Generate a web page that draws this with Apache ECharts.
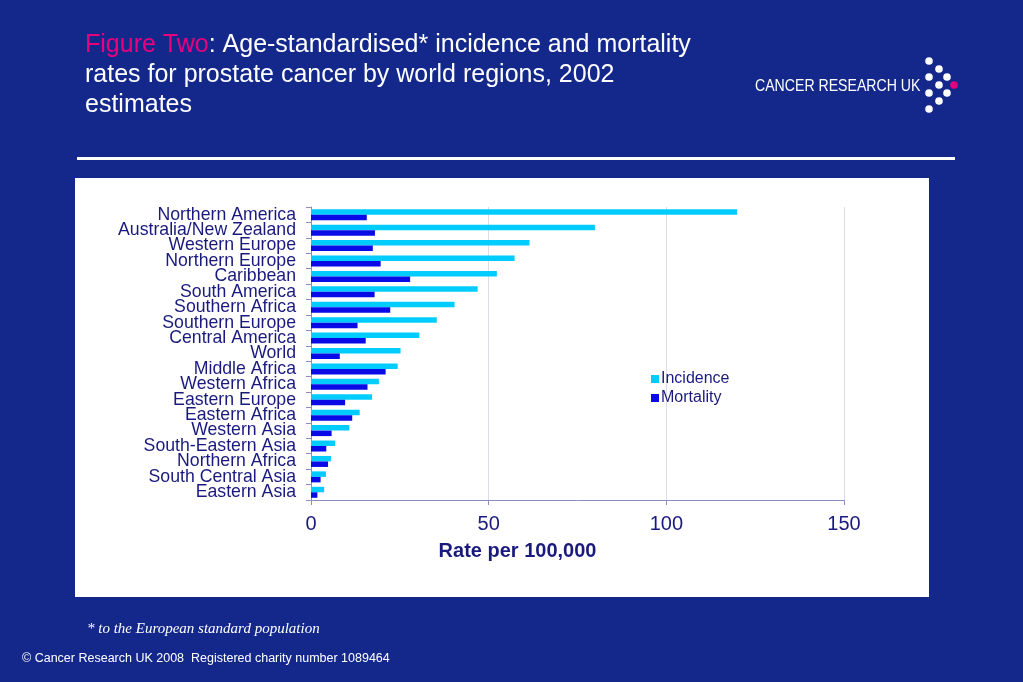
<!DOCTYPE html>
<html>
<head>
<meta charset="utf-8">
<script src="https://cdn.jsdelivr.net/npm/echarts@6/dist/echarts.min.js"></script>
<style>
  html, body { margin: 0; padding: 0; background: #14288c; }
  #chart { width: 1023px; height: 682px; }
</style>
</head>
<body>
<div id="chart"></div>
<script>
// regions, top to bottom
const regions = [
  'Northern America', 'Australia/New Zealand', 'Western Europe', 'Northern Europe',
  'Caribbean', 'South America', 'Southern Africa', 'Southern Europe',
  'Central America', 'World', 'Middle Africa', 'Western Africa',
  'Eastern Europe', 'Eastern Africa', 'Western Asia', 'South-Eastern Asia',
  'Northern Africa', 'South Central Asia', 'Eastern Asia'
]
// rates per 100,000
const incidence = [119.9, 79.9, 61.5, 57.3, 52.3, 46.9, 40.4, 35.4, 30.5, 25.2,
  24.4, 19.1, 17.2, 13.7, 10.8, 6.8, 5.6, 4.2, 3.7]
const mortality = [15.7, 18.0, 17.4, 19.6, 27.9, 17.9, 22.3, 13.1, 15.4, 8.1,
  21.0, 15.9, 9.6, 11.6, 5.8, 4.3, 4.8, 2.7, 1.8]
const xTicks = [0, 50, 100, 150]

const navy = '#1a1a7e'
const font = 'Arial, "Liberation Sans", sans-serif'

// logo dots (chevron), pink one added separately
const dots = [
  [929, 61], [939, 69], [929, 77], [947, 77], [939, 85],
  [929, 93], [947, 93], [939, 101], [929, 109]
]

const chart = echarts.init(document.getElementById('chart'))
chart.setOption({
  backgroundColor: '#14288c',
  animation: false,
  graphic: [
    { type: 'rect', z: -10, shape: { x: 75, y: 178, width: 854, height: 419 }, style: { fill: '#ffffff' } },
    { type: 'rect', shape: { x: 77, y: 157, width: 878, height: 3 }, style: { fill: '#ffffff' } },
    {
      type: 'text', left: 85, top: 30,
      style: {
        text: '{p|Figure Two}: Age-standardised* incidence and mortality\nrates for prostate cancer by world regions, 2002\nestimates',
        font: '25px ' + font, fill: '#ffffff', lineHeight: 30,
        rich: { p: { fill: '#e6007e', font: '25px ' + font } }
      }
    },
    {
      type: 'text', x: 755, y: 78, scaleX: 0.83,
      style: { text: 'CANCER RESEARCH UK', font: '17px ' + font, fill: '#ffffff' }
    },
    ...dots.map(d => ({ type: 'circle', shape: { cx: d[0], cy: d[1], r: 3.8 }, style: { fill: '#ffffff' } })),
    { type: 'circle', shape: { cx: 954, cy: 85, r: 3.8 }, style: { fill: '#e6007e' } },
    {
      type: 'text', left: 87, top: 622,
      style: { text: '* to the European standard population', font: 'italic 15px "Liberation Serif", "DejaVu Serif", serif', fill: '#ffffff' }
    },
    {
      type: 'text', left: 22, top: 652,
      style: { text: '© Cancer Research UK 2008  Registered charity number 1089464', font: '12.5px ' + font, fill: '#ffffff' }
    }
  ],
  legend: {
    orient: 'vertical',
    left: 646,
    top: 366,
    itemWidth: 8,
    itemHeight: 8,
    itemGap: 3,
    icon: 'rect',
    textStyle: { color: navy, fontSize: 16, fontFamily: font, padding: [0, 0, 0, -3] },
    data: ['Incidence', 'Mortality']
  },
  grid: { left: 311, right: 179, top: 207, bottom: 182 },
  xAxis: {
    type: 'value',
    min: 0,
    max: 150,
    interval: 50,
    name: 'Rate per 100,000',
    nameLocation: 'middle',
    nameGap: 41,
    nameTextStyle: { color: navy, fontSize: 20, fontWeight: 'bold', fontFamily: font, padding: [0, 120, 0, 0] },
    axisLine: { show: true, lineStyle: { color: '#8c8cc0' } },
    axisTick: { show: true, length: 5, lineStyle: { color: '#8c8cc0' } },
    axisLabel: { color: navy, fontSize: 20, fontFamily: font, margin: 14, formatter: v => xTicks.includes(v) ? String(v) : '' },
    splitLine: { show: true, lineStyle: { color: '#dcdce8' } }
  },
  yAxis: {
    type: 'category',
    inverse: true,
    data: regions,
    axisLine: { show: true, lineStyle: { color: '#8c8cc0' } },
    axisTick: { show: true, length: 5, lineStyle: { color: '#8c8cc0' } },
    axisLabel: { interval: 0, color: navy, fontSize: 17.7, lineHeight: 15, fontFamily: font, margin: 15 }
  },
  series: [
    {
      name: 'Incidence', type: 'bar', data: incidence,
      itemStyle: { color: '#00ccff' },
      barWidth: 5.5, barGap: '0%'
    },
    {
      name: 'Mortality', type: 'bar', data: mortality,
      itemStyle: { color: '#0a0ae6' },
      barWidth: 5.5, barGap: '0%'
    }
  ]
})
</script>
</body>
</html>
